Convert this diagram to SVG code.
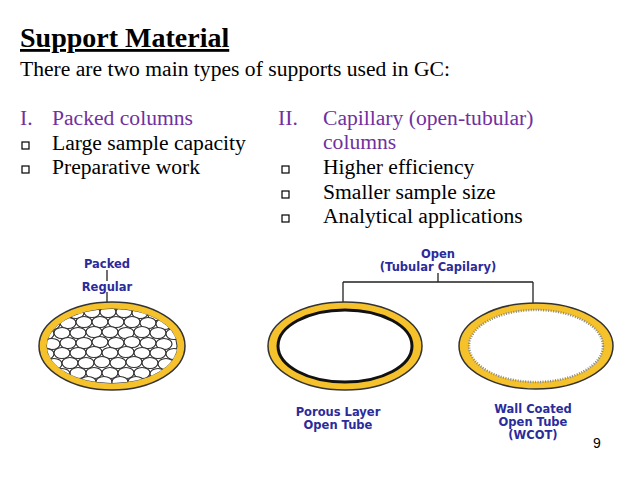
<svg xmlns="http://www.w3.org/2000/svg" xmlns:xlink="http://www.w3.org/1999/xlink" width="638" height="478" viewBox="0 0 638 478">
<style>
.t{font-family:"Liberation Serif",serif;font-size:21.6px;fill:#000}
.p{fill:#7030A0}
.l{font-family:"DejaVu Sans",sans-serif;font-weight:bold;font-size:11.5px;fill:#2B2B9B;text-anchor:middle}
.ring{fill:#F5C22B;stroke:#333;stroke-width:1.5}
.ln{stroke:#222;stroke-width:1.3;fill:none}
.q{fill:#fff;stroke:#000;stroke-width:1.2}
</style>
<defs>
<ellipse id="b" rx="8" ry="5.5" fill="#fff" stroke="#333" stroke-width="1.2"/>
<rect id="q" class="q" width="7" height="7"/>
<clipPath id="c"><ellipse cx="112" cy="346" rx="65" ry="37"/></clipPath>
</defs>
<rect width="638" height="478" fill="#fff"/>
<text x="20" y="47" font-family="Liberation Serif,serif" font-size="28" font-weight="bold" text-decoration="underline">Support Material</text>
<text class="t" x="20" y="76">There are two main types of supports used in GC:</text>
<text class="t p" x="20" y="125">I.</text><text class="t p" x="52" y="125">Packed columns</text>
<use xlink:href="#q" x="22" y="142"/><text class="t" x="52" y="150">Large sample capacity</text>
<use xlink:href="#q" x="22" y="166"/><text class="t" x="52" y="174">Preparative work</text>
<text class="t p" x="278" y="125">II.</text><text class="t p" x="323" y="125">Capillary (open-tubular)</text>
<text class="t p" x="323" y="149">columns</text>
<use xlink:href="#q" x="282" y="166"/><text class="t" x="323" y="174">Higher efficiency</text>
<use xlink:href="#q" x="282" y="191"/><text class="t" x="323" y="199">Smaller sample size</text>
<use xlink:href="#q" x="282" y="215"/><text class="t" x="323" y="223">Analytical applications</text>
<g id="connectors">
<path class="ln" d="M107 270V281M107 292V303M438 273V282M343 282H533M343 282V302M533 282V303"/>
</g>
<g id="packed">
<text class="l" x="107" y="268">Packed</text>
<text class="l" x="107" y="291">Regular</text>
<ellipse class="ring" cx="112" cy="346" rx="73" ry="44"/>
<ellipse cx="112" cy="346" rx="65" ry="37" fill="#fff" stroke="#333"/>
<g clip-path="url(#c)">
<use xlink:href="#b" x="60" y="314"/><use xlink:href="#b" x="76" y="313"/><use xlink:href="#b" x="92" y="312"/><use xlink:href="#b" x="108" y="312"/><use xlink:href="#b" x="124" y="312"/><use xlink:href="#b" x="140" y="313"/><use xlink:href="#b" x="156" y="315"/>
<use xlink:href="#b" x="52" y="324"/><use xlink:href="#b" x="68" y="323"/><use xlink:href="#b" x="84" y="322"/><use xlink:href="#b" x="100" y="322"/><use xlink:href="#b" x="116" y="322"/><use xlink:href="#b" x="132" y="322"/><use xlink:href="#b" x="148" y="323"/><use xlink:href="#b" x="164" y="324"/>
<use xlink:href="#b" x="46" y="334"/><use xlink:href="#b" x="62" y="333"/><use xlink:href="#b" x="78" y="333"/><use xlink:href="#b" x="94" y="332"/><use xlink:href="#b" x="110" y="332"/><use xlink:href="#b" x="126" y="333"/><use xlink:href="#b" x="142" y="332"/><use xlink:href="#b" x="158" y="333"/><use xlink:href="#b" x="174" y="334"/>
<use xlink:href="#b" x="52" y="344"/><use xlink:href="#b" x="68" y="343"/><use xlink:href="#b" x="84" y="343"/><use xlink:href="#b" x="100" y="342"/><use xlink:href="#b" x="116" y="343"/><use xlink:href="#b" x="132" y="342"/><use xlink:href="#b" x="148" y="343"/><use xlink:href="#b" x="164" y="344"/>
<use xlink:href="#b" x="46" y="354"/><use xlink:href="#b" x="62" y="353"/><use xlink:href="#b" x="78" y="353"/><use xlink:href="#b" x="94" y="352"/><use xlink:href="#b" x="110" y="353"/><use xlink:href="#b" x="126" y="352"/><use xlink:href="#b" x="142" y="353"/><use xlink:href="#b" x="158" y="353"/><use xlink:href="#b" x="174" y="354"/>
<use xlink:href="#b" x="54" y="364"/><use xlink:href="#b" x="70" y="363"/><use xlink:href="#b" x="86" y="363"/><use xlink:href="#b" x="102" y="362"/><use xlink:href="#b" x="118" y="363"/><use xlink:href="#b" x="134" y="362"/><use xlink:href="#b" x="150" y="363"/><use xlink:href="#b" x="166" y="364"/>
<use xlink:href="#b" x="62" y="374"/><use xlink:href="#b" x="78" y="373"/><use xlink:href="#b" x="94" y="373"/><use xlink:href="#b" x="110" y="373"/><use xlink:href="#b" x="126" y="373"/><use xlink:href="#b" x="142" y="373"/><use xlink:href="#b" x="158" y="374"/>
<use xlink:href="#b" x="88" y="382"/><use xlink:href="#b" x="104" y="382"/><use xlink:href="#b" x="120" y="382"/><use xlink:href="#b" x="136" y="382"/>
</g>
</g>
<g id="open">
<text class="l" x="438" y="258">Open</text>
<text class="l" x="438" y="271">(Tubular Capilary)</text>
</g>
<g id="plot">
<ellipse class="ring" cx="345" cy="346" rx="77" ry="44"/>
<ellipse cx="345" cy="346" rx="67" ry="36" fill="#fff" stroke="#111" stroke-width="3"/>
<text class="l" x="338" y="416">Porous Layer</text>
<text class="l" x="338" y="429">Open Tube</text>
</g>
<g id="wcot">
<ellipse class="ring" cx="536" cy="346" rx="77" ry="43"/>
<ellipse cx="536" cy="346" rx="67" ry="36" fill="#fff" stroke="#888" stroke-width="2.5" stroke-dasharray="1 1.5"/>
<text class="l" x="533" y="413">Wall Coated</text>
<text class="l" x="533" y="426">Open Tube</text>
<text class="l" x="533" y="439">(WCOT)</text>
</g>
<text x="593" y="448" font-family="Liberation Sans,sans-serif" font-size="14">9</text>
</svg>
